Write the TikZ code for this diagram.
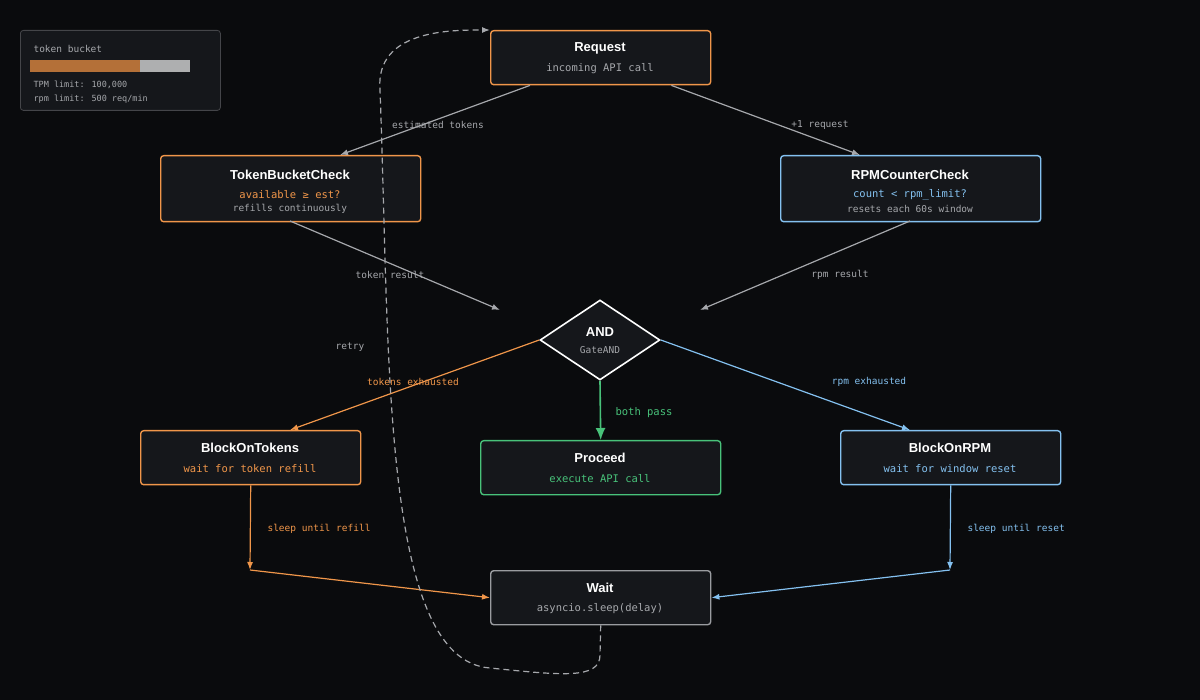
\documentclass[tikz,border=0pt]{standalone}
\usepackage{fontspec}
\setmainfont{Liberation Sans}
\newfontfamily\mono{DejaVu Sans Mono}
\usetikzlibrary{shapes.geometric,arrows.meta}
\definecolor{bg}{HTML}{0A0B0D}
\definecolor{nodebg}{HTML}{15171B}
\definecolor{orng}{HTML}{F0964A}
\definecolor{blu}{HTML}{84C1F0}
\definecolor{grn}{HTML}{48C27A}
\definecolor{gry}{HTML}{A6A8AC}
\definecolor{wgry}{HTML}{9A9CA0}
\begin{document}
\begin{tikzpicture}[x=1pt,y=-1pt,
  box/.style={draw,fill=nodebg,rounded corners=3pt,line width=1.4pt,anchor=north west,inner sep=0pt},
  ttl/.style={text=white,font=\bfseries\fontsize{13}{15}\selectfont},
  sub/.style={font=\mono\fontsize{10.5}{12}\selectfont},
  sm/.style={font=\mono\fontsize{9.5}{11}\selectfont},
  lbl/.style={font=\mono\fontsize{9.5}{11}\selectfont},
  arr/.style={-{Latex[length=8pt,width=6pt]},line width=1.2pt}]
\fill[bg] (0,0) rectangle (1200,700);
\useasboundingbox (0,0) rectangle (1200,700);
% legend
\node[box,draw=nodebg!80!white,line width=0.8pt,minimum width=200,minimum height=80] (leg) at (20,30) {};
\node[sm,text=gry,anchor=west] (lt) at (30,49) {token bucket};
\fill[nodebg!70!gray!40] (30,60) rectangle (190,72);
\fill[orng!75!black] (30,60) rectangle (140,72);
\node[font=\mono\fontsize{8.5}{10}\selectfont,text=gry,anchor=west] (l1) at (30,85) {TPM limit: 100,000};
\node[font=\mono\fontsize{8.5}{10}\selectfont,text=gry,anchor=west] (l2) at (30,99) {rpm limit: 500 req/min};
% nodes
\node[box,draw=orng,minimum width=220,minimum height=54] (req) at (490,30) {};
\node[ttl] at (600,48) {Request};
\node[sub,text=gry] at (600,69) {incoming API call};
\node[box,draw=orng,minimum width=260,minimum height=66] (tb) at (160,155) {};
\node[ttl] at (290,175) {TokenBucketCheck};
\node[sub,text=orng] at (290,195) {available ≥ est?};
\node[sm,text=gry] at (290,209) {refills continuously};
\node[box,draw=blu,minimum width=260,minimum height=66] (rpm) at (780,155) {};
\node[ttl] at (910,175) {RPMCounterCheck};
\node[sub,text=blu] at (910,195) {count < rpm\_limit?};
\node[sm,text=gry] at (910,209) {resets each 60s window};
\node[draw=white,fill=nodebg,line width=1.6pt,shape=diamond,minimum width=120,minimum height=80,inner sep=0pt] (and) at (600,340) {};
\node[ttl] at (600,332) {AND};
\node[sm,text=gry] at (600,350) {GateAND};
\node[box,draw=orng,minimum width=220,minimum height=54] (bt) at (140,430) {};
\node[ttl] at (250,448) {BlockOnTokens};
\node[sub,text=orng] at (250,469) {wait for token refill};
\node[box,draw=grn,minimum width=240,minimum height=54] (pr) at (480,440) {};
\node[ttl] at (600,458) {Proceed};
\node[sub,text=grn] at (600,479) {execute API call};
\node[box,draw=blu,minimum width=220,minimum height=54] (br) at (840,430) {};
\node[ttl] at (950,448) {BlockOnRPM};
\node[sub,text=blu] at (950,469) {wait for window reset};
\node[box,draw=wgry,minimum width=220,minimum height=54] (wt) at (490,570) {};
\node[ttl] at (600,588) {Wait};
\node[sub,text=gry] at (600,609) {asyncio.sleep(delay)};
\coordinate (c1) at (250,570);
\coordinate (c2) at (950,570);
\coordinate (t1) at (340,155);
\coordinate (t2) at (860,155);
\coordinate (a1) at (500,310);
\coordinate (a2) at (700,310);
\coordinate (b1) at (290,430);
\coordinate (b2) at (910,430);
% edges
\draw[arr,gry] (req.south west) ++(40,0) coordinate (r1) -- (t1);
\draw[arr,gry] (req.south east) ++(-40,0) coordinate (r2) -- (t2);
\draw[arr,gry] (290,221) -- (a1);
\draw[arr,gry] (910,221) -- (a2);
\draw[arr,orng] (and.west) -- (b1);
\draw[arr,blu] (and.east) -- (b2);
\draw[-{Latex[length=12pt,width=10pt]},line width=1.6pt,grn] (and.south) -- (pr.north);
\draw[arr,orng] (bt.south) -- (c1);
\draw[arr,orng] (c1) -- (wt.west);
\draw[arr,blu] (br.south) -- (c2);
\draw[arr,blu] (c2) -- (wt.east);
\draw[arr,gry,dashed,dash pattern=on 6pt off 4pt] (wt.south) -- (600,655) .. controls (600,680) and (560,675) .. (490,668) .. controls (380,660) and (390,350) .. (380,90) .. controls (375,30) and (450,30) .. (490,30);
% labels
\node[lbl,text=gry] at (438,125) {estimated tokens};
\node[lbl,text=gry] at (820,125) {+1 request};
\node[lbl,text=gry] at (390,275) {token result};
\node[lbl,text=gry] at (840,275) {rpm result};
\node[lbl,text=gry] at (350,347) {retry};
\node[lbl,text=orng] at (413,382) {tokens exhausted};
\node[lbl,text=blu] at (869,382) {rpm exhausted};
\node[font=\mono\fontsize{10.5}{12}\selectfont,text=grn] at (644,413) {both pass};
\node[lbl,text=orng,anchor=west] at (264,529) {sleep until refill};
\node[lbl,text=blu,anchor=west] at (964,529) {sleep until reset};
\end{tikzpicture}
\end{document}
